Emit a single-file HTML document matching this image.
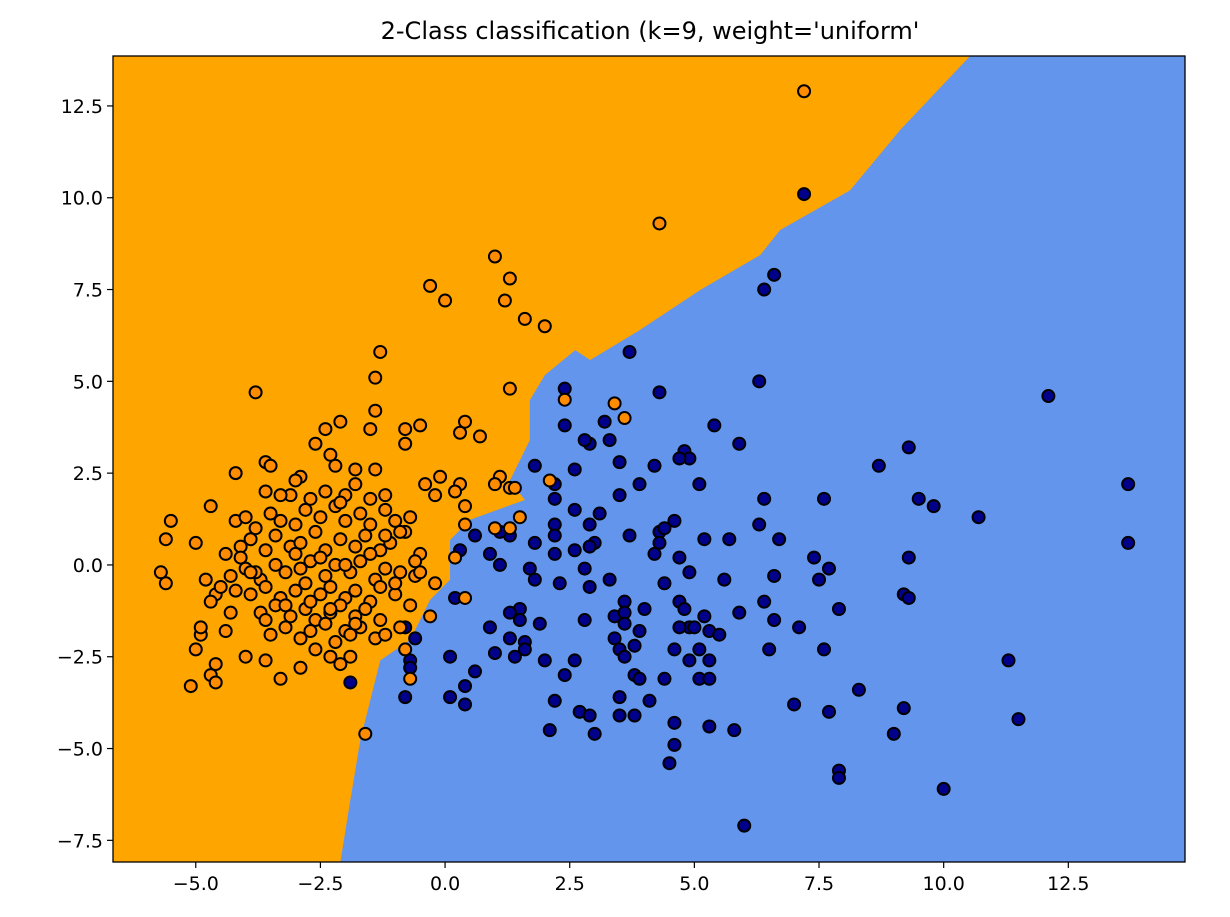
<!DOCTYPE html>
<html><head><meta charset="utf-8"><style>
body{margin:0;background:#fff;font-family:"Liberation Sans","DejaVu Sans",sans-serif}
svg text{font-family:"DejaVu Sans","Liberation Sans",sans-serif}
</style></head><body>
<svg id="chart" width="1230" height="912" viewBox="0 0 1230 912" xmlns="http://www.w3.org/2000/svg">
<rect width="1230" height="912" fill="#fff"/>
<text x="650" y="39" font-size="24" text-anchor="middle">2-Class classification (k=9, weight='uniform'</text>
<g id="plot"></g>
<g id="axes"></g>
</svg>
<script>
const xTicks=[-5.0,-2.5,0.0,2.5,5.0,7.5,10.0,12.5];
const yTicks=[-7.5,-5.0,-2.5,0.0,2.5,5.0,7.5,10.0,12.5];
const xTickLabels=["−5.0","−2.5","0.0","2.5","5.0","7.5","10.0","12.5"];
const yTickLabels=["−7.5","−5.0","−2.5","0.0","2.5","5.0","7.5","10.0","12.5"];
const boundaryX=[10.53,9.13,8.12,6.72,6.32,5.12,3.91,2.91,2.61,2.0,1.7,1.7,1.3,1.6,0.5,0.1,0.1,-0.3,-0.7,-1.3,-1.5,-1.7,-1.9,-2.1];
const boundaryY=[13.86,11.85,10.2,9.12,8.44,7.49,6.4,5.58,5.85,5.17,4.49,3.4,2.3,1.77,1.23,0.68,-0.4,-0.95,-2.04,-2.6,-3.68,-4.77,-6.4,-8.09];
const orangeX=[1.0,1.3,-0.3,0.0,1.2,1.6,2.0,4.3,7.2,-1.3,-1.4,-3.8,1.3,3.4,2.4,3.6,-1.4,-2.1,0.4,-0.5,-0.8,-1.5,-2.4,0.3,0.7,-2.6,-0.8,-2.3,-1.4,-1.8,-3.6,-3.5,-4.2,-2.9,-2.2,-0.1,1.1,0.3,0.2,-0.4,-0.2,1.3,1.4,1.0,2.1,-4.7,-3.6,-3.1,-2.0,-1.2,0.4,0.4,1.0,1.3,1.5,-5.5,-5.6,-5.0,-5.7,-5.6,-4.8,-4.6,-4.7,-4.9,-5.0,-4.9,-4.4,-4.3,-4.7,-4.6,-4.6,-5.1,-4.0,-3.6,-3.3,-2.6,-2.3,-2.9,-2.1,-1.9,-2.0,-1.6,-0.7,-0.8,0.4,-0.2,0.2,-0.3,-0.9,
-4.2,-4.0,-3.8,-3.5,-3.3,-3.0,-2.8,-2.5,-2.2,-2.0,-1.7,-1.5,-1.2,-1.0,-0.7,-4.1,-3.9,-3.6,-3.4,-3.1,-2.9,-2.6,-2.4,-2.1,-1.8,-1.6,-1.3,-1.1,-0.8,-0.5,-4.3,-4.0,-3.7,-3.4,-3.2,-2.9,-2.7,-2.4,-2.2,-1.9,-1.7,-1.4,-1.2,-0.9,-0.6,-3.9,-3.6,-3.3,-3.0,-2.8,-2.5,-2.3,-2.0,-1.8,-1.5,-1.3,-1.0,-0.7,-3.7,-3.4,-3.1,-2.8,-2.6,-2.3,-2.1,-1.8,-1.6,-1.3,-3.5,-3.2,-2.9,-2.7,-2.4,-2.2,-1.9,-1.7,-1.4,-4.4,-4.1,-3.8,-3.0,-2.5,-2.0,-1.5,-1.0,-0.5,-3.2,-2.7,-2.3,-1.8,-1.2,-4.5,-4.2,-3.9,-3.6,-3.3,-3.0,-2.7,-2.4,-2.1,-1.8,-1.5,-1.2,-0.9,-0.6];
const orangeY=[8.4,7.8,7.6,7.2,7.2,6.7,6.5,9.3,12.9,5.8,5.1,4.7,4.8,4.4,4.5,4.0,4.2,3.9,3.9,3.8,3.7,3.7,3.7,3.6,3.5,3.3,3.3,3.0,2.6,2.6,2.8,2.7,2.5,2.4,2.7,2.4,2.4,2.2,2.0,2.2,1.9,2.1,2.1,2.2,2.3,1.6,2.0,1.9,1.9,1.9,1.6,1.1,1.0,1.0,1.3,1.2,0.7,0.6,-0.2,-0.5,-0.4,-0.8,-1.0,-1.9,-2.3,-1.7,-1.8,-1.3,-3.0,-2.7,-3.2,-3.3,-2.5,-2.6,-3.1,-2.3,-2.5,-2.8,-2.7,-2.5,-1.8,-4.6,-3.1,-2.3,-0.9,-0.5,0.2,-1.4,-1.7,
1.2,1.3,1.0,1.4,1.2,1.1,1.5,1.3,1.6,1.2,1.4,1.1,1.5,1.2,1.3,0.5,0.7,0.4,0.8,0.5,0.6,0.9,0.4,0.7,0.5,0.8,0.4,0.6,0.9,0.3,-0.3,-0.1,-0.4,0.0,-0.2,-0.1,0.1,-0.3,0.0,-0.2,0.1,-0.4,-0.1,-0.2,-0.3,-0.8,-0.6,-0.9,-0.7,-0.5,-0.8,-0.6,-0.9,-0.7,-1.0,-0.6,-0.8,-1.1,-1.3,-1.1,-1.4,-1.2,-1.5,-1.3,-1.1,-1.4,-1.2,-1.5,-1.9,-1.7,-2.0,-1.8,-1.6,-2.1,-1.9,-1.7,-2.0,0.3,0.2,-0.2,0.3,0.2,0.0,0.3,-0.5,-0.2,-1.1,-1.0,-1.2,-1.6,-1.9,-0.6,-0.7,-0.2,-1.5,1.9,2.3,1.8,2.0,1.7,2.2,1.8,0.8,0.9,0.1];
const blueX=[7.2,6.6,6.4,3.7,6.3,4.3,2.4,12.1,5.4,2.4,3.2,2.9,2.8,3.3,5.9,9.3,4.8,4.9,4.7,3.5,4.2,1.8,8.7,2.6,5.1,3.9,2.2,13.7,3.5,6.4,7.6,9.5,9.8,2.2,3.1,2.6,2.9,2.2,4.6,6.3,10.7,4.3,4.4,3.7,2.2,1.3,0.6,1.1,5.2,5.7,6.7,13.7,1.8,3.0,2.9,2.6,4.3,4.2,2.2,7.4,9.3,4.7,1.7,0.9,0.3,1.1,2.8,7.7,4.9,6.6,3.3,5.6,7.5,4.4,1.8,2.3,2.9,0.2,9.2,9.3,3.6,4.7,6.4,4.0,4.8,7.9,1.5,1.3,3.4,5.2,3.6,5.9,1.5,2.8,6.6,3.6,1.9,4.9,5.0,5.3,4.7,7.1,1.3,3.4,3.9,5.5,1.6,0.9,-0.8,-0.6,4.6,6.5,7.6,1.6,3.5,3.8,3.6,5.1,5.3,4.9,1.4,0.1,1.0,2.0,2.6,-0.7,-0.7,0.6,2.4,3.8,3.9,4.4,5.1,5.3,11.3,0.4,8.3,-1.9,-0.8,0.1,0.4,2.2,3.5,4.1,7.0,7.7,9.2,2.7,2.9,3.5,3.8,4.6,5.3,5.8,11.5,2.1,3.0,9.0,4.6,4.5,7.9,7.9,10.0,6.0];
const blueY=[10.1,7.9,7.5,5.8,5.0,4.7,4.8,4.6,3.8,3.8,3.9,3.3,3.4,3.4,3.3,3.2,3.1,2.9,2.9,2.8,2.7,2.7,2.7,2.6,2.2,2.2,2.2,2.2,1.9,1.8,1.8,1.8,1.6,1.8,1.4,1.5,1.1,1.1,1.2,1.1,1.3,0.9,1.0,0.8,0.8,0.8,0.8,0.9,0.7,0.7,0.7,0.6,0.6,0.6,0.5,0.4,0.6,0.3,0.3,0.2,0.2,0.2,-0.1,0.3,0.4,0.0,-0.1,-0.1,-0.2,-0.3,-0.4,-0.4,-0.4,-0.5,-0.4,-0.5,-0.6,-0.9,-0.8,-0.9,-1.0,-1.0,-1.0,-1.2,-1.2,-1.2,-1.2,-1.3,-1.4,-1.4,-1.3,-1.3,-1.5,-1.5,-1.5,-1.6,-1.6,-1.7,-1.7,-1.8,-1.7,-1.7,-2.0,-2.0,-1.8,-1.9,-2.1,-1.7,-1.7,-2.0,-2.3,-2.3,-2.3,-2.3,-2.3,-2.2,-2.5,-2.3,-2.6,-2.6,-2.5,-2.5,-2.4,-2.6,-2.6,-2.6,-2.8,-2.9,-3.0,-3.0,-3.1,-3.1,-3.1,-3.1,-2.6,-3.3,-3.4,-3.2,-3.6,-3.6,-3.8,-3.7,-3.6,-3.7,-3.8,-4.0,-3.9,-4.0,-4.1,-4.1,-4.1,-4.3,-4.4,-4.5,-4.2,-4.5,-4.6,-4.6,-4.9,-5.4,-5.6,-5.8,-6.1,-7.1];

const L=113,R=1185,T=56,B=862,xmin=-6.66,xmax=14.84,ymin=-8.09,ymax=13.86;
const sx=v=>L+(v-xmin)/(xmax-xmin)*(R-L);
const sy=v=>B-(v-ymin)/(ymax-ymin)*(B-T);
const NS="http://www.w3.org/2000/svg";
function mk(t,a,p){const e=document.createElementNS(NS,t);for(const k in a)e.setAttribute(k,a[k]);p.appendChild(e);return e;}
const plot=document.getElementById('plot'),axes=document.getElementById('axes');
const bg=mk('rect',{x:L,y:T,width:R-L,height:B-T,fill:'#6495ed'},plot);


let pts=[[L,T]];
for(let i=0;i<boundaryX.length;i++)pts.push([sx(boundaryX[i]),sy(boundaryY[i])]);
pts.push([L,B]);
const reg=mk('polygon',{points:pts.map(p=>p.join(',')).join(' '),fill:'#ffa500'},plot);


for(let i=0;i<blueX.length;i++){
 const c=mk('circle',{cx:sx(blueX[i]),cy:sy(blueY[i]),r:6,fill:'#00008b',stroke:'#000','stroke-width':2},plot);
 
 
}
for(let i=0;i<orangeX.length;i++){
 const c=mk('circle',{cx:sx(orangeX[i]),cy:sy(orangeY[i]),r:6,fill:'#ff8c00',stroke:'#000','stroke-width':2},plot);
 
 
}
const fr=mk('rect',{x:L,y:T,width:R-L,height:B-T,fill:'none',stroke:'#000','stroke-width':1.3},axes);


xTicks.forEach((v,i)=>{const x=sx(v);
 mk('line',{x1:x,x2:x,y1:B,y2:B+6,stroke:'#000','stroke-width':1.2},axes);
 const t=mk('text',{x:x,y:B+28,'font-size':19,'text-anchor':'middle'},axes);t.textContent=xTickLabels[i];
 
 
});
yTicks.forEach((v,i)=>{const y=sy(v);
 mk('line',{x1:L-6,x2:L,y1:y,y2:y,stroke:'#000','stroke-width':1.2},axes);
 const t=mk('text',{x:L-10,y:y+7,'font-size':19,'text-anchor':'end'},axes);t.textContent=yTickLabels[i];
 
 
});
</script>
</body></html>
